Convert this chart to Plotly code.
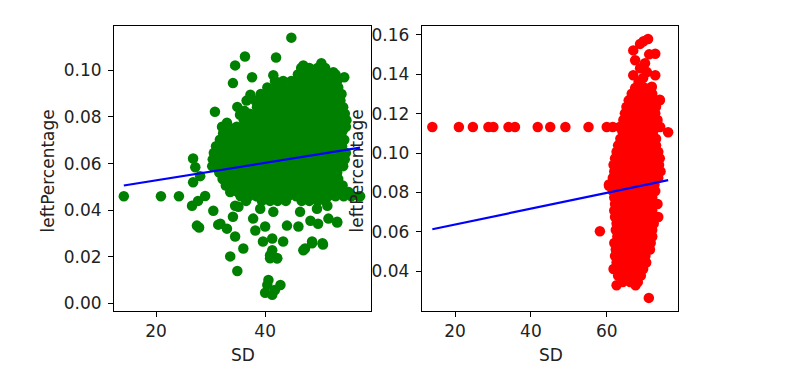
import plotly.graph_objects as go

# ---------------- Left panel (green) ----------------
# dense core, read row by row: (leftPercentage, [SD values])
left_core_rows = [
    (0.1010, [46.6, 48.1, 49.6, 51.0]),
    (0.0982, [46.0, 47.4, 48.9, 50.3, 51.8, 52.9]),
    (0.0954, [41.8, 43.3, 44.8, 46.2, 47.7, 49.1, 50.6, 52.0, 53.2]),
    (0.0926, [40.4, 41.9, 43.3, 44.8, 46.2, 47.7, 49.1, 50.6, 52.0, 53.4]),
    (0.0898, [39.2, 40.5, 41.5, 42.9, 44.4, 45.8, 47.3, 48.7, 50.2, 51.6, 53.1, 54.0]),
    (0.0870, [38.2, 39.3, 40.8, 42.2, 43.7, 45.1, 46.6, 48.0, 49.5, 50.9, 52.4, 53.8]),
    (0.0842, [38.5, 39.9, 41.4, 42.8, 44.3, 45.7, 47.2, 48.6, 50.1, 51.5, 53.0, 54.3]),
    (0.0814, [37.2, 38.7, 40.1, 41.6, 43.0, 44.5, 45.9, 47.4, 48.8, 50.3, 51.7, 53.2, 54.6]),
    (0.0786, [36.1, 37.5, 39.0, 40.4, 41.9, 43.3, 44.8, 46.2, 47.7, 49.1, 50.6, 52.0, 53.5, 54.9]),
    (0.0758, [34.8, 36.3, 37.7, 39.2, 40.6, 42.1, 43.5, 45.0, 46.4, 47.9, 49.3, 50.8, 52.2, 53.7, 54.8]),
    (0.0730, [32.3, 33.8, 35.2, 36.7, 38.1, 39.6, 41.0, 42.5, 43.9, 45.4, 46.8, 48.3, 49.7, 51.2, 52.6, 54.0]),
    (0.0702, [31.7, 33.1, 34.6, 36.0, 37.5, 38.9, 40.4, 41.8, 43.3, 44.7, 46.2, 47.6, 49.1, 50.5, 52.0, 53.4, 54.5]),
    (0.0674, [31.0, 32.4, 33.9, 35.3, 36.8, 38.2, 39.7, 41.1, 42.6, 44.0, 45.5, 46.9, 48.4, 49.8, 51.3, 52.7, 54.1]),
    (0.0646, [30.6, 32.0, 33.5, 34.9, 36.4, 37.8, 39.3, 40.7, 42.2, 43.6, 45.1, 46.5, 48.0, 49.4, 50.9, 52.3, 53.8, 54.8]),
    (0.0618, [30.4, 31.8, 33.3, 34.7, 36.2, 37.6, 39.1, 40.5, 42.0, 43.4, 44.9, 46.3, 47.8, 49.2, 50.7, 52.1, 53.6, 54.6]),
    (0.0590, [31.0, 32.5, 33.9, 35.4, 36.8, 38.3, 39.7, 41.2, 42.6, 44.1, 45.5, 47.0, 48.4, 49.9, 51.3, 52.8, 54.0]),
    (0.0562, [31.6, 33.0, 34.5, 35.9, 37.4, 38.8, 40.3, 41.7, 43.2, 44.6, 46.1, 47.5, 49.0, 50.4, 51.9, 53.2]),
    (0.0534, [32.2, 33.7, 35.1, 36.6, 38.0, 39.5, 40.9, 42.4, 43.8, 45.3, 46.7, 48.2, 49.6, 51.1, 52.5, 53.4]),
    (0.0506, [32.8, 34.3, 35.7, 37.2, 38.6, 40.1, 41.5, 43.0, 44.4, 45.9, 47.3, 48.8, 50.2, 51.7, 53.1, 54.2]),
    (0.0478, [33.6, 35.0, 36.5, 37.9, 39.4, 40.8, 42.3, 43.7, 45.2, 46.6, 48.1, 49.5, 51.0, 52.4, 53.9, 55.3]),
    (0.0460, [35.5, 37.0, 38.4, 39.9, 41.3, 42.8, 44.2, 45.7, 47.1, 48.6, 50.0, 51.5, 52.9, 54.4, 55.8, 57.2]),
    (0.0440, [36.5, 39.4, 40.9, 42.3, 43.8, 46.7, 48.1, 49.6, 51.0]),
]

# scattered points around the core: (SD, leftPercentage)
left_sparse = [
    (14.1, 0.0460), (20.9, 0.0460), (24.2, 0.0460), (26.8, 0.0622), (27.2, 0.0584),
    (26.8, 0.0520), (28.1, 0.0546), (26.6, 0.0419), (27.7, 0.0440), (29.0, 0.0461),
    (27.5, 0.0334), (27.9, 0.0326), (30.8, 0.0822), (30.3, 0.0589), (31.4, 0.0338),
    (34.5, 0.1021), (36.3, 0.1059), (34.1, 0.0945), (37.6, 0.0970), (42.0, 0.1055),
    (41.5, 0.0979), (44.8, 0.1140), (47.0, 0.1021), (50.3, 0.1030), (52.5, 0.0992),
    (54.5, 0.0970), (53.8, 0.0839), (54.1, 0.0788), (54.3, 0.0746), (54.3, 0.0589),
    (57.4, 0.0460), (53.2, 0.0347), (50.6, 0.0253), (48.6, 0.0266), (47.0, 0.0228),
    (40.9, 0.0194), (42.2, 0.0194), (41.3, 0.0228), (34.5, 0.0419), (34.1, 0.0733),
    (32.1, 0.0758), (33.0, 0.0775), (35.4, 0.0809), (34.9, 0.0843), (30.5, 0.0398),
    (31.8, 0.0342), (33.0, 0.0321), (34.5, 0.0287), (36.0, 0.0236), (33.6, 0.0202),
    (34.9, 0.0139), (34.1, 0.0372), (35.1, 0.0415), (37.8, 0.0364), (38.2, 0.0313),
    (40.0, 0.0330), (39.6, 0.0266), (41.3, 0.0279), (40.9, 0.0207), (42.2, 0.0194),
    (43.3, 0.0266), (44.0, 0.0334), (46.1, 0.0330), (48.3, 0.0355), (49.7, 0.0342),
    (51.6, 0.0364), (53.2, 0.0351), (47.3, 0.0236), (48.6, 0.0258), (50.5, 0.0258),
    (40.4, 0.0079), (42.8, 0.0079), (40.0, 0.0046), (41.3, 0.0037), (40.6, 0.0101),
    (41.8, 0.0058), (41.5, 0.0393), (39.1, 0.0406), (46.4, 0.0393), (49.5, 0.0406),
    (51.4, 0.0419), (36.6, 0.0870), (37.3, 0.0895), (33.6, 0.0752), (36.2, 0.0826),
]

left_fit_x = [14.1, 57.4]
left_fit_y = [0.0506, 0.0668]

# ---------------- Right panel (red) ----------------
right_core_rows = [
    (0.1300, [66.6, 68.6, 70.6, 72.0]),
    (0.1267, [65.8, 67.8, 69.8, 71.8, 74.0]),
    (0.1234, [65.2, 67.2, 69.2, 71.2, 73.0]),
    (0.1201, [64.8, 66.8, 68.8, 70.8, 72.8]),
    (0.1168, [64.4, 66.4, 68.4, 70.4, 72.4, 73.4]),
    (0.1132, [14.0, 21.0, 24.7, 28.8, 30.1, 34.1, 35.8, 41.8, 45.1, 49.1, 55.2,
              60.0, 61.6, 63.4, 65.4, 67.4, 69.4, 71.4, 73.2, 74.1]),
    (0.1105, [64.2, 66.2, 68.2, 70.2, 72.2, 76.2]),
    (0.1072, [63.6, 65.6, 67.6, 69.6, 71.6, 73.0]),
    (0.1039, [63.0, 65.0, 67.0, 69.0, 71.0, 73.0]),
    (0.1006, [62.6, 64.6, 66.6, 68.6, 70.6, 72.6, 73.6]),
    (0.0973, [62.2, 64.2, 66.2, 68.2, 70.2, 72.2, 74.0]),
    (0.0940, [61.8, 63.8, 65.8, 67.8, 69.8, 71.8, 73.8]),
    (0.0907, [62.0, 64.0, 66.0, 68.0, 70.0, 72.0, 74.2]),
    (0.0874, [61.6, 63.6, 65.6, 67.6, 69.6, 71.6, 73.6]),
    (0.0841, [60.6, 62.6, 64.6, 66.6, 68.6, 70.6, 72.6]),
    (0.0808, [61.6, 63.6, 65.6, 67.6, 69.6, 71.6, 72.8]),
    (0.0775, [62.0, 64.0, 66.0, 68.0, 70.0, 72.0]),
    (0.0742, [62.2, 64.2, 66.2, 68.2, 70.2, 72.2, 73.4]),
    (0.0709, [62.0, 64.0, 66.0, 68.0, 70.0, 72.0]),
    (0.0676, [62.2, 64.2, 66.2, 68.2, 70.2, 72.2, 73.6]),
    (0.0643, [62.6, 64.6, 66.6, 68.6, 70.6, 72.4]),
    (0.0610, [62.4, 64.4, 66.4, 68.4, 70.4, 72.0]),
    (0.0577, [62.8, 64.8, 66.8, 68.8, 70.8, 72.0]),
    (0.0544, [62.0, 64.0, 66.0, 68.0, 70.0, 71.6]),
    (0.0511, [62.4, 64.4, 66.4, 68.4, 70.4, 71.4]),
    (0.0478, [62.2, 64.2, 66.2, 68.2, 70.2]),
    (0.0445, [62.6, 64.6, 66.6, 68.6, 70.4]),
    (0.0412, [61.8, 63.6, 65.6, 67.6, 69.6]),
    (0.0379, [63.0, 65.0, 67.0, 69.0]),
    (0.0346, [64.2, 66.2, 68.2]),
]

right_sparse = [
    (70.9, 0.1578), (69.7, 0.1566), (68.8, 0.1553), (67.0, 0.1520), (72.8, 0.1503),
    (71.2, 0.1500), (67.5, 0.1470), (70.1, 0.1455), (68.8, 0.1430), (67.0, 0.1394),
    (72.8, 0.1394), (69.6, 0.1380), (68.4, 0.1360), (70.6, 0.1410), (67.5, 0.1330),
    (70.1, 0.1330), (71.9, 0.1336), (74.0, 0.1270), (58.2, 0.0604), (71.1, 0.0266),
    (62.6, 0.0330), (67.6, 0.0330), (60.6, 0.0834),
]

right_fit_x = [14.0, 76.2]
right_fit_y = [0.0614, 0.0863]

left_y_ticks = [0.00, 0.02, 0.04, 0.06, 0.08, 0.10]
right_y_ticks = [0.04, 0.06, 0.08, 0.10, 0.12, 0.14, 0.16]
left_x_ticks = [20, 40]
right_x_ticks = [20, 40, 60]


def flatten(rows, sparse):
    xs, ys = [], []
    for y, row in rows:
        for x in row:
            xs.append(x)
            ys.append(y)
    for x, y in sparse:
        xs.append(x)
        ys.append(y)
    return xs, ys


lx, ly = flatten(left_core_rows, left_sparse)
rx, ry = flatten(right_core_rows, right_sparse)

W, H = 803, 381
FONT = "DejaVu Sans"
FS = 17
MS = 10.5

fig = go.Figure()
fig.add_trace(go.Scatter(x=lx, y=ly, mode="markers", xaxis="x", yaxis="y",
                         marker=dict(color="#008000", size=MS, line=dict(width=0)),
                         showlegend=False, hoverinfo="skip"))
fig.add_trace(go.Scatter(x=left_fit_x, y=left_fit_y, mode="lines", xaxis="x", yaxis="y",
                         line=dict(color="#0000ff", width=2.2), showlegend=False))
fig.add_trace(go.Scatter(x=rx, y=ry, mode="markers", xaxis="x2", yaxis="y2",
                         marker=dict(color="#ff0000", size=MS, line=dict(width=0)),
                         showlegend=False, hoverinfo="skip"))
fig.add_trace(go.Scatter(x=right_fit_x, y=right_fit_y, mode="lines", xaxis="x2", yaxis="y2",
                         line=dict(color="#0000ff", width=2.2), showlegend=False))

ydom = [68 / H, 356 / H]
axis_common = dict(showline=True, mirror=True, linecolor="#000000", linewidth=1,
                   ticks="outside", ticklen=5, tickwidth=1, tickcolor="#000000",
                   showgrid=False, zeroline=False,
                   tickfont=dict(family=FONT, size=FS, color="#222222"))

fig.update_layout(
    width=W, height=H,
    margin=dict(l=0, r=0, t=0, b=0),
    paper_bgcolor="white", plot_bgcolor="white",
    font=dict(family=FONT, size=FS, color="#222222"),
    xaxis=dict(domain=[114 / W, 371 / W], range=[12.3, 59.4], tickvals=left_x_ticks,
               anchor="y", **axis_common),
    yaxis=dict(domain=ydom, range=[-0.0031, 0.1191], tickvals=left_y_ticks,
               tickformat=".2f", anchor="x", ticklabelstandoff=3, **axis_common),
    xaxis2=dict(domain=[421.7 / W, 678 / W], range=[11.2, 78.8], tickvals=right_x_ticks,
                anchor="y2", **axis_common),
    yaxis2=dict(domain=ydom, range=[0.0201, 0.1645], tickvals=right_y_ticks,
                tickformat=".2f", anchor="x2", ticklabelstandoff=3, **axis_common),
)

title_font = dict(family=FONT, size=FS, color="#222222")
annots = [
    dict(text="SD", x=242.5 / W, y=1 - 357.5 / H),
    dict(text="SD", x=550.8 / W, y=1 - 357.5 / H),
    dict(text="leftPercentage", x=47.5 / W, y=1 - 171.7 / H, textangle=-90),
    dict(text="leftPercentage", x=356.5 / W, y=1 - 171.7 / H, textangle=-90),
]
for a in annots:
    fig.add_annotation(xref="paper", yref="paper", showarrow=False,
                       xanchor="center", yanchor="middle", font=title_font, **a)

fig.write_html("out.html")
